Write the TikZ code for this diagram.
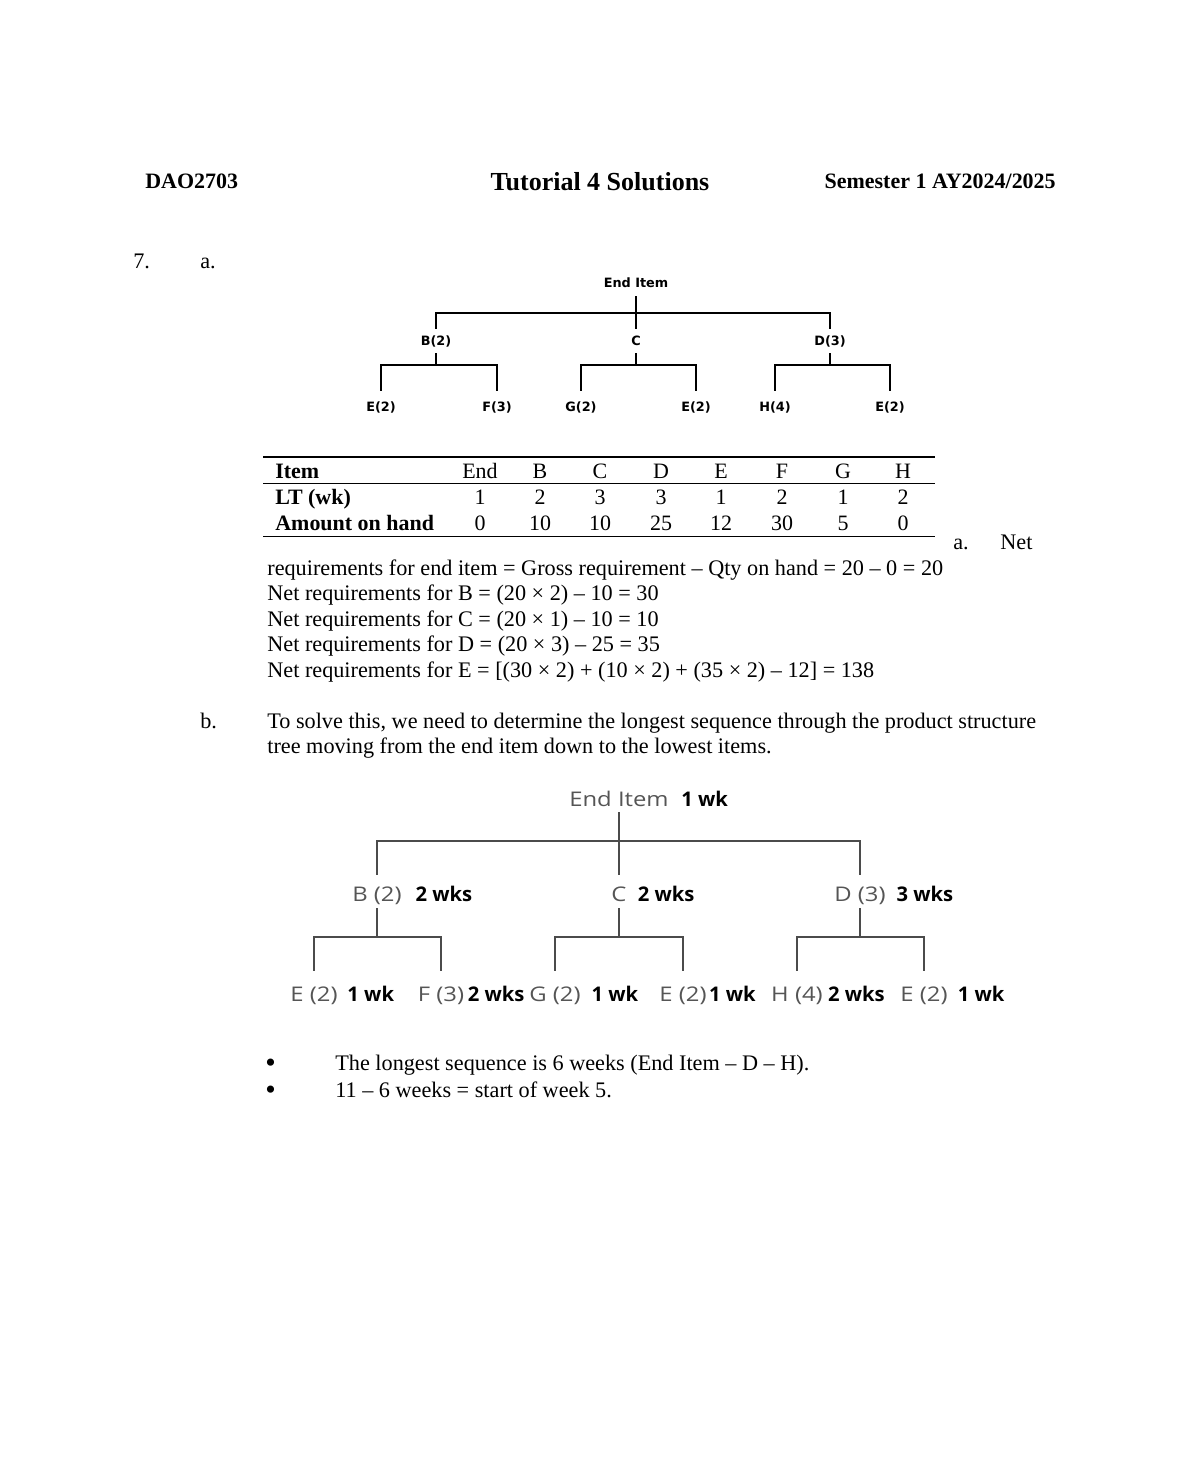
\documentclass[tikz,border=0pt]{standalone}
\usepackage{fontspec}
\setmainfont{Liberation Serif}
\newfontfamily\bomfont{DejaVu Sans}
\newfontfamily\ltfont{Open Sans}
\newfontfamily\ltnamefont[FakeStretch=1.18]{Open Sans}
\usetikzlibrary{positioning}
\definecolor{ltname}{RGB}{85,85,85}
\definecolor{ltedge}{RGB}{75,75,75}

\begin{document}
\begin{tikzpicture}[
  x=0.02cm,y=-0.02cm,
  txt/.style={anchor=base west,inner sep=0pt,font=\fontsize{12.65}{14.5}\selectfont},
  hdr/.style={anchor=base west,inner sep=0pt,font=\fontsize{12.5}{14.5}\selectfont\bfseries},
  cell/.style={anchor=base,inner sep=0pt,font=\fontsize{12.5}{14.5}\selectfont},
  dot/.style={anchor=base west,inner sep=0pt,font=\fontsize{17}{17}\selectfont},
  bom/.style={anchor=base,inner sep=0pt,font=\bomfont\fontsize{7.3}{8}\selectfont\bfseries},
  bomtop/.style={bom,text depth=4.8pt},
  bommid/.style={bom,text height=9.4pt,text depth=4.3pt},
  bomleaf/.style={bom,text height=11.4pt},
  bomedge/.style={line width=1.6pt},
  lt/.style={anchor=base,inner sep=0pt,font=\ltnamefont\fontsize{11.5}{14}\selectfont,text=ltname},
  lttop/.style={lt,text depth=3.4pt},
  ltmid/.style={lt,text height=14.7pt,text depth=4pt},
  ltleaf/.style={lt,text height=17pt},
  wk/.style={inner sep=0pt,font=\ltfont\fontsize{11.5}{14}\selectfont\bfseries},
  ltedge/.style={line width=1.1pt,draw=ltedge}
]
\path[use as bounding box,fill=white] (0,0) rectangle (1200,1467);

% header
\node[hdr] (course) at (145,188) {DAO2703};
\node[hdr,anchor=base,font=\fontsize{14.8}{17}\selectfont\bfseries] (title) at (600,190) {Tutorial 4 Solutions};
\node[hdr,anchor=base east] (sem) at (1056,188) {Semester 1 AY2024/2025};
\node[txt] (q7) at (133,268) {7.};
\node[txt] (parta) at (200,268) {a.};

% product structure tree (part a)
\node[bomtop] (root) at (636,287.5) {End Item};
\node[bommid] (B) at (436,345.5) {B(2)};
\node[bommid] (C) at (636,345.5) {C};
\node[bommid] (D) at (830,345.5) {D(3)};
\node[bomleaf] (BE) at (381,411) {E(2)};
\node[bomleaf] (BF) at (497,411) {F(3)};
\node[bomleaf] (CG) at (581,411) {G(2)};
\node[bomleaf] (CE) at (696,411) {E(2)};
\node[bomleaf] (DH) at (775,411) {H(4)};
\node[bomleaf] (DE) at (890,411) {E(2)};
\coordinate (rootbar) at (636,313);
\coordinate (Bbar) at (436,365);
\coordinate (Cbar) at (636,365);
\coordinate (Dbar) at (830,365);
\draw[bomedge] (root) -- (C);
\draw[bomedge] (B) |- (rootbar) -| (D);
\draw[bomedge] (B) -- (Bbar);
\draw[bomedge] (BE) |- (Bbar) -| (BF);
\draw[bomedge] (C) -- (Cbar);
\draw[bomedge] (CG) |- (Cbar) -| (CE);
\draw[bomedge] (D) -- (Dbar);
\draw[bomedge] (DH) |- (Dbar) -| (DE);

% lead time / on hand table
\draw[line width=1pt] (263,457) -- (935,457);
\draw[line width=0.6pt] (263,483.5) -- (935,483.5);
\draw[line width=1pt] (263,536.5) -- (935,536.5);
\node[hdr] (itemlbl) at (275,478) {Item};
\node[hdr] (ltlbl) at (275,504) {LT (wk)};
\node[hdr] (ohlbl) at (275,530.5) {Amount on hand};
\foreach \col/\x/\lt/\oh [count=\i] in {End/480/1/0,B/540/2/10,C/600/3/10,D/661/3/25,
    E/721/1/12,F/782/2/30,G/843/1/5,H/903/2/0} {
  \node[cell] (item\i) at (\x,478) {\col};
  \node[cell] (lt\i) at (\x,504) {\lt};
  \node[cell] (oh\i) at (\x,530.5) {\oh};
}

% net requirements
\node[txt] (neta) at (953,549) {a.};
\node[txt] (netword) at (1000,549) {Net};
\node[txt] (reqEnd) at (267,575) {requirements for end item = Gross requirement – Qty on hand = 20 – 0 = 20};
\node[txt] (reqB) at (267,600.5) {Net requirements for B = (20 × 2) – 10 = 30};
\node[txt] (reqC) at (267,626) {Net requirements for C = (20 × 1) – 10 = 10};
\node[txt] (reqD) at (267,651.5) {Net requirements for D = (20 × 3) – 25 = 35};
\node[txt] (reqE) at (267,677) {Net requirements for E = [(30 × 2) + (10 × 2) + (35 × 2) – 12] = 138};

% part b
\node[txt] (partb) at (200,728) {b.};
\node[txt] (solve1) at (267,728) {To solve this, we need to determine the longest sequence through the product structure};
\node[txt] (solve2) at (267,753) {tree moving from the end item down to the lowest items.};

% lead time tree (part b)
\node[lttop] (lroot) at (619,806) {End Item};
\node[ltmid] (lB) at (377,901) {B (2)};
\node[ltmid] (lC) at (619,901) {C};
\node[ltmid] (lD) at (860,901) {D (3)};
\node[ltleaf] (lBE) at (314,1001) {E (2)};
\node[ltleaf] (lBF) at (441,1001) {F (3)};
\node[ltleaf] (lCG) at (555,1001) {G (2)};
\node[ltleaf] (lCE) at (683,1001) {E (2)};
\node[ltleaf] (lDH) at (797,1001) {H (4)};
\node[ltleaf] (lDE) at (924,1001) {E (2)};
\node[wk,base right=6.8pt of lroot] (wroot) {1 wk};
\node[wk,base right=7.5pt of lB] (wB) {2 wks};
\node[wk,base right=6pt of lC] (wC) {2 wks};
\node[wk,base right=5.8pt of lD] (wD) {3 wks};
\node[wk,base right=5.2pt of lBE] (wBE) {1 wk};
\node[wk,base right=1.7pt of lBF] (wBF) {2 wks};
\node[wk,base right=5.8pt of lCG] (wCG) {1 wk};
\node[wk,base right=1pt of lCE] (wCE) {1 wk};
\node[wk,base right=2.6pt of lDH] (wDH) {2 wks};
\node[wk,base right=5.4pt of lDE] (wDE) {1 wk};
\coordinate (lrootbar) at (619,841);
\coordinate (lBbar) at (377,937);
\coordinate (lCbar) at (619,937);
\coordinate (lDbar) at (860,937);
\draw[ltedge] (lroot) -- (lC);
\draw[ltedge] (lB) |- (lrootbar) -| (lD);
\draw[ltedge] (lB) -- (lBbar);
\draw[ltedge] (lBE) |- (lBbar) -| (lBF);
\draw[ltedge] (lC) -- (lCbar);
\draw[ltedge] (lCG) |- (lCbar) -| (lCE);
\draw[ltedge] (lD) -- (lDbar);
\draw[ltedge] (lDH) |- (lDbar) -| (lDE);

% conclusions
\node[dot] (dot1) at (265,1072) {•};
\node[txt] (longest) at (335,1070) {The longest sequence is 6 weeks (End Item – D – H).};
\node[dot] (dot2) at (265,1099) {•};
\node[txt] (startwk) at (335,1097) {11 – 6 weeks = start of week 5.};
\end{tikzpicture}
\end{document}
